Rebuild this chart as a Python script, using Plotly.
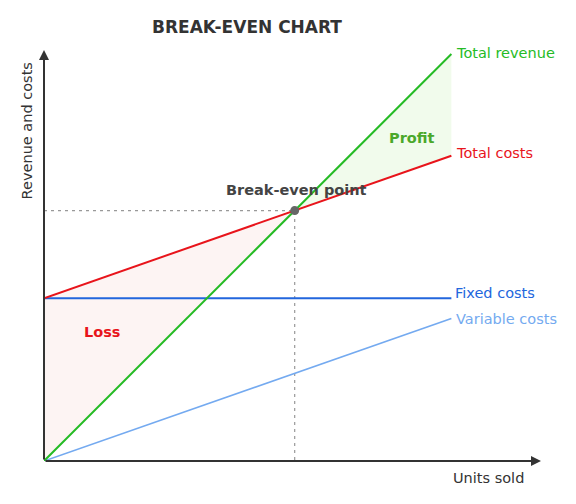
import plotly.graph_objects as go

# Break-even chart data (units sold vs. revenue / costs, arbitrary units)
units = [0, 100]
total_revenue = [0, 100]
fixed_costs = [40, 40]
variable_costs = [0, 35]
total_costs = [f + v for f, v in zip(fixed_costs, variable_costs)]

# break-even: revenue == total costs
price = (total_revenue[1] - total_revenue[0]) / (units[1] - units[0])
unit_var = (variable_costs[1] - variable_costs[0]) / (units[1] - units[0])
be_x = fixed_costs[0] / (price - unit_var)
be_y = price * be_x

GREEN = "#25bb25"
RED = "#e8141b"
BLUE = "#2266dd"
LIGHT_BLUE = "#74aaf0"
DARK = "#333333"
FONT = "DejaVu Sans"
FS = 14.5

fig = go.Figure()

# shaded areas
fig.add_trace(go.Scatter(
    x=[units[0], be_x, units[0], units[0]],
    y=[total_costs[0], be_y, total_revenue[0], total_costs[0]],
    fill="toself", fillcolor="#fdf4f3", line=dict(width=0),
    mode="lines", hoverinfo="skip", showlegend=False,
))
fig.add_trace(go.Scatter(
    x=[be_x, units[1], units[1], be_x],
    y=[be_y, total_revenue[1], total_costs[1], be_y],
    fill="toself", fillcolor="#f1fbec", line=dict(width=0),
    mode="lines", hoverinfo="skip", showlegend=False,
))

# guide lines to the break-even point
fig.add_trace(go.Scatter(
    x=[0, be_x, be_x], y=[be_y, be_y, 0], mode="lines",
    line=dict(color="#999999", width=1.2, dash="3px,4px"),
    hoverinfo="skip", showlegend=False,
))

fig.add_trace(go.Scatter(x=units, y=variable_costs, mode="lines",
                         line=dict(color=LIGHT_BLUE, width=1.6), name="Variable costs"))
fig.add_trace(go.Scatter(x=units, y=fixed_costs, mode="lines",
                         line=dict(color=BLUE, width=2), name="Fixed costs"))
fig.add_trace(go.Scatter(x=units, y=total_costs, mode="lines",
                         line=dict(color=RED, width=2), name="Total costs"))
fig.add_trace(go.Scatter(x=units, y=total_revenue, mode="lines",
                         line=dict(color=GREEN, width=2), name="Total revenue"))
fig.add_trace(go.Scatter(x=[be_x], y=[be_y], mode="markers",
                         marker=dict(color="#666666", size=9), name="Break-even point"))

# axes drawn as arrows
x_end, y_end = 122, 101
for ax_, ay_, x_, y_ in [(0, 0, x_end, 0), (0, 0, 0, y_end)]:
    fig.add_annotation(x=x_, y=y_, ax=ax_, ay=ay_, xref="x", yref="y",
                       axref="x", ayref="y", showarrow=True, arrowhead=2,
                       arrowsize=1, arrowwidth=2, arrowcolor=DARK, text="")

def label(x, y, text, color, bold=False, **kw):
    fig.add_annotation(x=x, y=y, xref="x", yref="y", showarrow=False,
                       text=f"<b>{text}</b>" if bold else text,
                       font=dict(family=FONT, size=FS, color=color), **kw)

label(units[1], total_revenue[1], "Total revenue", GREEN, xanchor="left", xshift=3, yshift=1)
label(units[1], total_costs[1], "Total costs", RED, xanchor="left", xshift=3, yshift=3)
label(units[1], fixed_costs[1], "Fixed costs", BLUE, xanchor="left", xshift=2, yshift=5)
label(units[1], variable_costs[1], "Variable costs", LIGHT_BLUE, xanchor="left", xshift=3, yshift=0)
label(be_x, be_y, "Break-even point", "#444444", bold=True, yshift=21, xshift=2)
label(90.2, 79.4, "Profit", "#4aa82a", bold=True)
label(14.3, 31.7, "Loss", RED, bold=True)

fig.add_annotation(x=118.2, y=0, xref="x", yref="y", showarrow=False,
                   text="Units sold", xanchor="right", yshift=-17,
                   font=dict(family=FONT, size=FS, color=DARK))
fig.add_annotation(x=0, y=81, xref="x", yref="y", showarrow=False,
                   text="Revenue and costs", textangle=-90, xshift=-17,
                   font=dict(family=FONT, size=FS, color=DARK))

# page body has an 8px margin, so the figure's own margins are offset by it
fig.update_layout(
    width=576, height=504,
    margin=dict(l=36, r=43, t=42, b=51),
    paper_bgcolor="white", plot_bgcolor="white",
    showlegend=False,
    title=dict(text="<b>BREAK-EVEN CHART</b>", x=239 / 576, xanchor="center",
               y=1 - 19 / 504, yanchor="middle",
               font=dict(family=FONT, size=17, color=DARK)),
    xaxis=dict(range=[0, x_end], visible=False, fixedrange=True),
    yaxis=dict(range=[0, y_end], visible=False, fixedrange=True),
)

fig.write_html("out.html")
